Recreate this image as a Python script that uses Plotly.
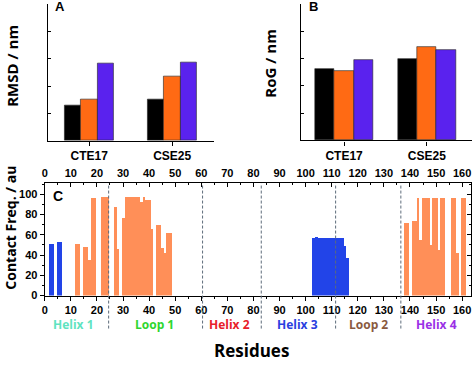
import plotly.graph_objects as go

W, H = 474, 368
def px(x): return x / W
def py(y): return 1 - y / H

# ---------------- data ----------------
systems = ["CTE17", "CSE25"]
rmsd_black = [0.131, 0.153]
rmsd_orange = [0.153, 0.237]
rmsd_blue = [0.282, 0.288]
rog_black = [0.260, 0.299]
rog_orange = [0.254, 0.341]
rog_blue = [0.296, 0.332]

blue_res = [2, 3, 5, 6, 103, 104, 105, 106, 107, 108, 109, 110, 111, 112, 113, 114, 115, 116]
blue_val = [51, 51, 53, 53, 57, 58, 57, 56.5, 57, 57, 57, 57, 57, 57, 57, 57, 49, 37]

orange_res = [12, 13, 15, 16, 17, 18, 19, 22, 23, 24, 27, 28, 30, 31, 32, 33, 34, 35, 36, 37, 38,
              39, 40, 41, 43, 44, 45, 46, 47, 48,
              138, 139, 141, 142, 143, 144, 145, 146, 147, 148, 149, 150, 151, 152, 153,
              156, 157, 158, 160, 161]
orange_val = [51, 51, 48, 48, 35, 96, 96, 97, 97, 97, 88, 46, 77, 97, 97, 97, 97, 97, 97, 92, 97,
              94, 94, 66, 70, 70, 47, 42, 62, 62,
              72, 72, 74, 74, 96, 55, 96, 96, 96, 50, 96, 96, 45, 96, 96,
              96, 96, 42, 96, 96]

region_bounds = [24.5, 60.5, 83, 111.5, 136.5]
region_names = ["Helix 1", "Loop 1", "Helix 2", "Helix 3", "Loop 2", "Helix 4"]
region_pos = [11, 42, 71, 97, 124, 150]
region_colors = ["#5fe3c0", "#2ed62e", "#e8202a", "#2a3ee0", "#8a5a40", "#9a30e6"]

# ---------------- styles ----------------
C_BLACK = "#000000"
C_ORANGE = "#ff6a14"
C_PURPLE = "#5a22ee"
C_ORANGE_L = "#ff8f58"
C_BLUE = "#2244e8"
TICKF = dict(family="Liberation Sans, Arial", size=11, color="black", weight="bold")
TITLEF = dict(family="Open Sans", size=15, color="black", weight="bold")

fig = go.Figure()

def add_group(xa, ya, vals_list, colors, w):
    offs = [-1.5 * w, -0.5 * w, 0.5 * w]
    for vals, col, off in zip(vals_list, colors, offs):
        fig.add_trace(go.Bar(x=systems, y=vals, xaxis=xa, yaxis=ya, width=w, offset=off,
                             marker=dict(color=col, line=dict(color="#222222", width=0.6)),
                             showlegend=False))

add_group("x", "y", [rmsd_black, rmsd_orange, rmsd_blue], [C_BLACK, C_ORANGE, C_PURPLE], 0.2)
add_group("x2", "y2", [rog_black, rog_orange, rog_blue], [C_BLACK, C_ORANGE, C_PURPLE], 0.235)

fig.add_trace(go.Bar(x=orange_res, y=orange_val, xaxis="x3", yaxis="y3", width=1, offset=-0.5,
                     marker=dict(color=C_ORANGE_L, line=dict(width=0)), showlegend=False))
fig.add_trace(go.Bar(x=blue_res, y=blue_val, xaxis="x3", yaxis="y3", width=1, offset=-0.5,
                     marker=dict(color=C_BLUE, line=dict(width=0)), showlegend=False))

cat_axis = dict(type="category", showline=True, linecolor="black", linewidth=1.3,
                ticks="outside", ticklen=4, tickcolor="black", tickfont=dict(TICKF, size=12),
                showgrid=False, zeroline=False, range=[-0.5, 1.5])
val_axis = dict(range=[0, 0.5], dtick=0.1, showline=True, linecolor="black", linewidth=1.3,
                ticks="inside", ticklen=3, tickcolor="black", showticklabels=False,
                showgrid=False, zeroline=False)

fig.update_layout(
    width=W, height=H, margin=dict(l=0, r=0, t=0, b=0),
    paper_bgcolor="white", plot_bgcolor="white", barmode="overlay", bargap=0,
    xaxis=dict(cat_axis, domain=[px(45), px(212)], anchor="y"),
    yaxis=dict(val_axis, domain=[py(143), py(4.5)], anchor="x"),
    xaxis2=dict(cat_axis, domain=[px(300), px(471.5)], anchor="y2", range=[-0.52, 1.54]),
    yaxis2=dict(val_axis, domain=[py(142.7), py(4)], anchor="x2"),
    xaxis3=dict(domain=[px(42), px(471)], anchor="y3", range=[0, 163.4], dtick=10, tick0=0,
                showline=True, linecolor="black", linewidth=1.2, ticks="outside", ticklen=4,
                tickcolor="black", tickfont=TICKF, showgrid=False, zeroline=False,
                minor=dict(dtick=5, ticklen=2, ticks="outside", tickcolor="black")),
    xaxis4=dict(overlaying="x3", anchor="y3", side="top", range=[0, 163.4], dtick=10, tick0=0,
                showline=True, linecolor="black", linewidth=1.2, ticks="inside", ticklen=4,
                tickcolor="black", tickfont=TICKF, showgrid=False, zeroline=False,
                minor=dict(dtick=5, ticklen=2, ticks="inside", tickcolor="black")),
    yaxis3=dict(domain=[py(300.5), py(186)], anchor="x3", range=[0, 111.2], dtick=20,
                showline=True, linecolor="black", linewidth=1.2, ticks="outside", ticklen=4,
                tickcolor="black", tickfont=TICKF, showgrid=False, zeroline=False,
                ticklabelstandoff=0,
                minor=dict(dtick=10, ticklen=2, ticks="outside", tickcolor="black")),
    yaxis4=dict(overlaying="y3", anchor="x3", side="right", range=[0, 111.2], dtick=20,
                showline=True, linecolor="black", linewidth=1.2, ticks="inside", ticklen=4,
                tickcolor="black", showticklabels=False, showgrid=False, zeroline=False,
                minor=dict(dtick=10, ticklen=2, ticks="inside", tickcolor="black")),
)
# invisible trace to activate the top/right axes
fig.add_trace(go.Scatter(x=[0], y=[0], xaxis="x4", yaxis="y4", mode="markers",
                         marker=dict(opacity=0), showlegend=False, hoverinfo="skip"))

for b in region_bounds:
    fig.add_shape(type="line", xref="x3", yref="paper", x0=b, x1=b, y0=py(334), y1=py(186.5),
                  line=dict(color="#5d6b7a", width=1, dash="3px,2px"))

for name, pos, col in zip(region_names, region_pos, region_colors):
    fig.add_annotation(x=pos, y=py(330), xref="x3", yref="paper", text=name, showarrow=False,
                       font=dict(family="Open Sans", size=12, color=col, weight="bold"),
                       xanchor="center", yanchor="middle")

ann = [
    ("RMSD / nm", 9, 67, -90, TITLEF),
    ("RoG / nm", 268.5, 64, -90, TITLEF),
    ("Contact Freq. / au", 7.5, 231, -90, dict(TITLEF, size=14)),
    ("Residues", 250, 356, 0, dict(TITLEF, size=17)),
    ("A", 57.5, 7, 0, dict(TICKF, size=13)),
    ("B", 312, 7, 0, dict(TICKF, size=13)),
    ("C", 55.5, 199, 0, dict(TICKF, size=14)),
]
for t, x, y, ang, f in ann:
    fig.add_annotation(x=px(x), y=py(y), xref="paper", yref="paper", text=t, showarrow=False,
                       textangle=ang, font=f, xanchor="center", yanchor="middle")

fig.write_html("out.html", config={"displayModeBar": False},
               post_script="document.body.style.margin='0';document.body.style.padding='0';")
